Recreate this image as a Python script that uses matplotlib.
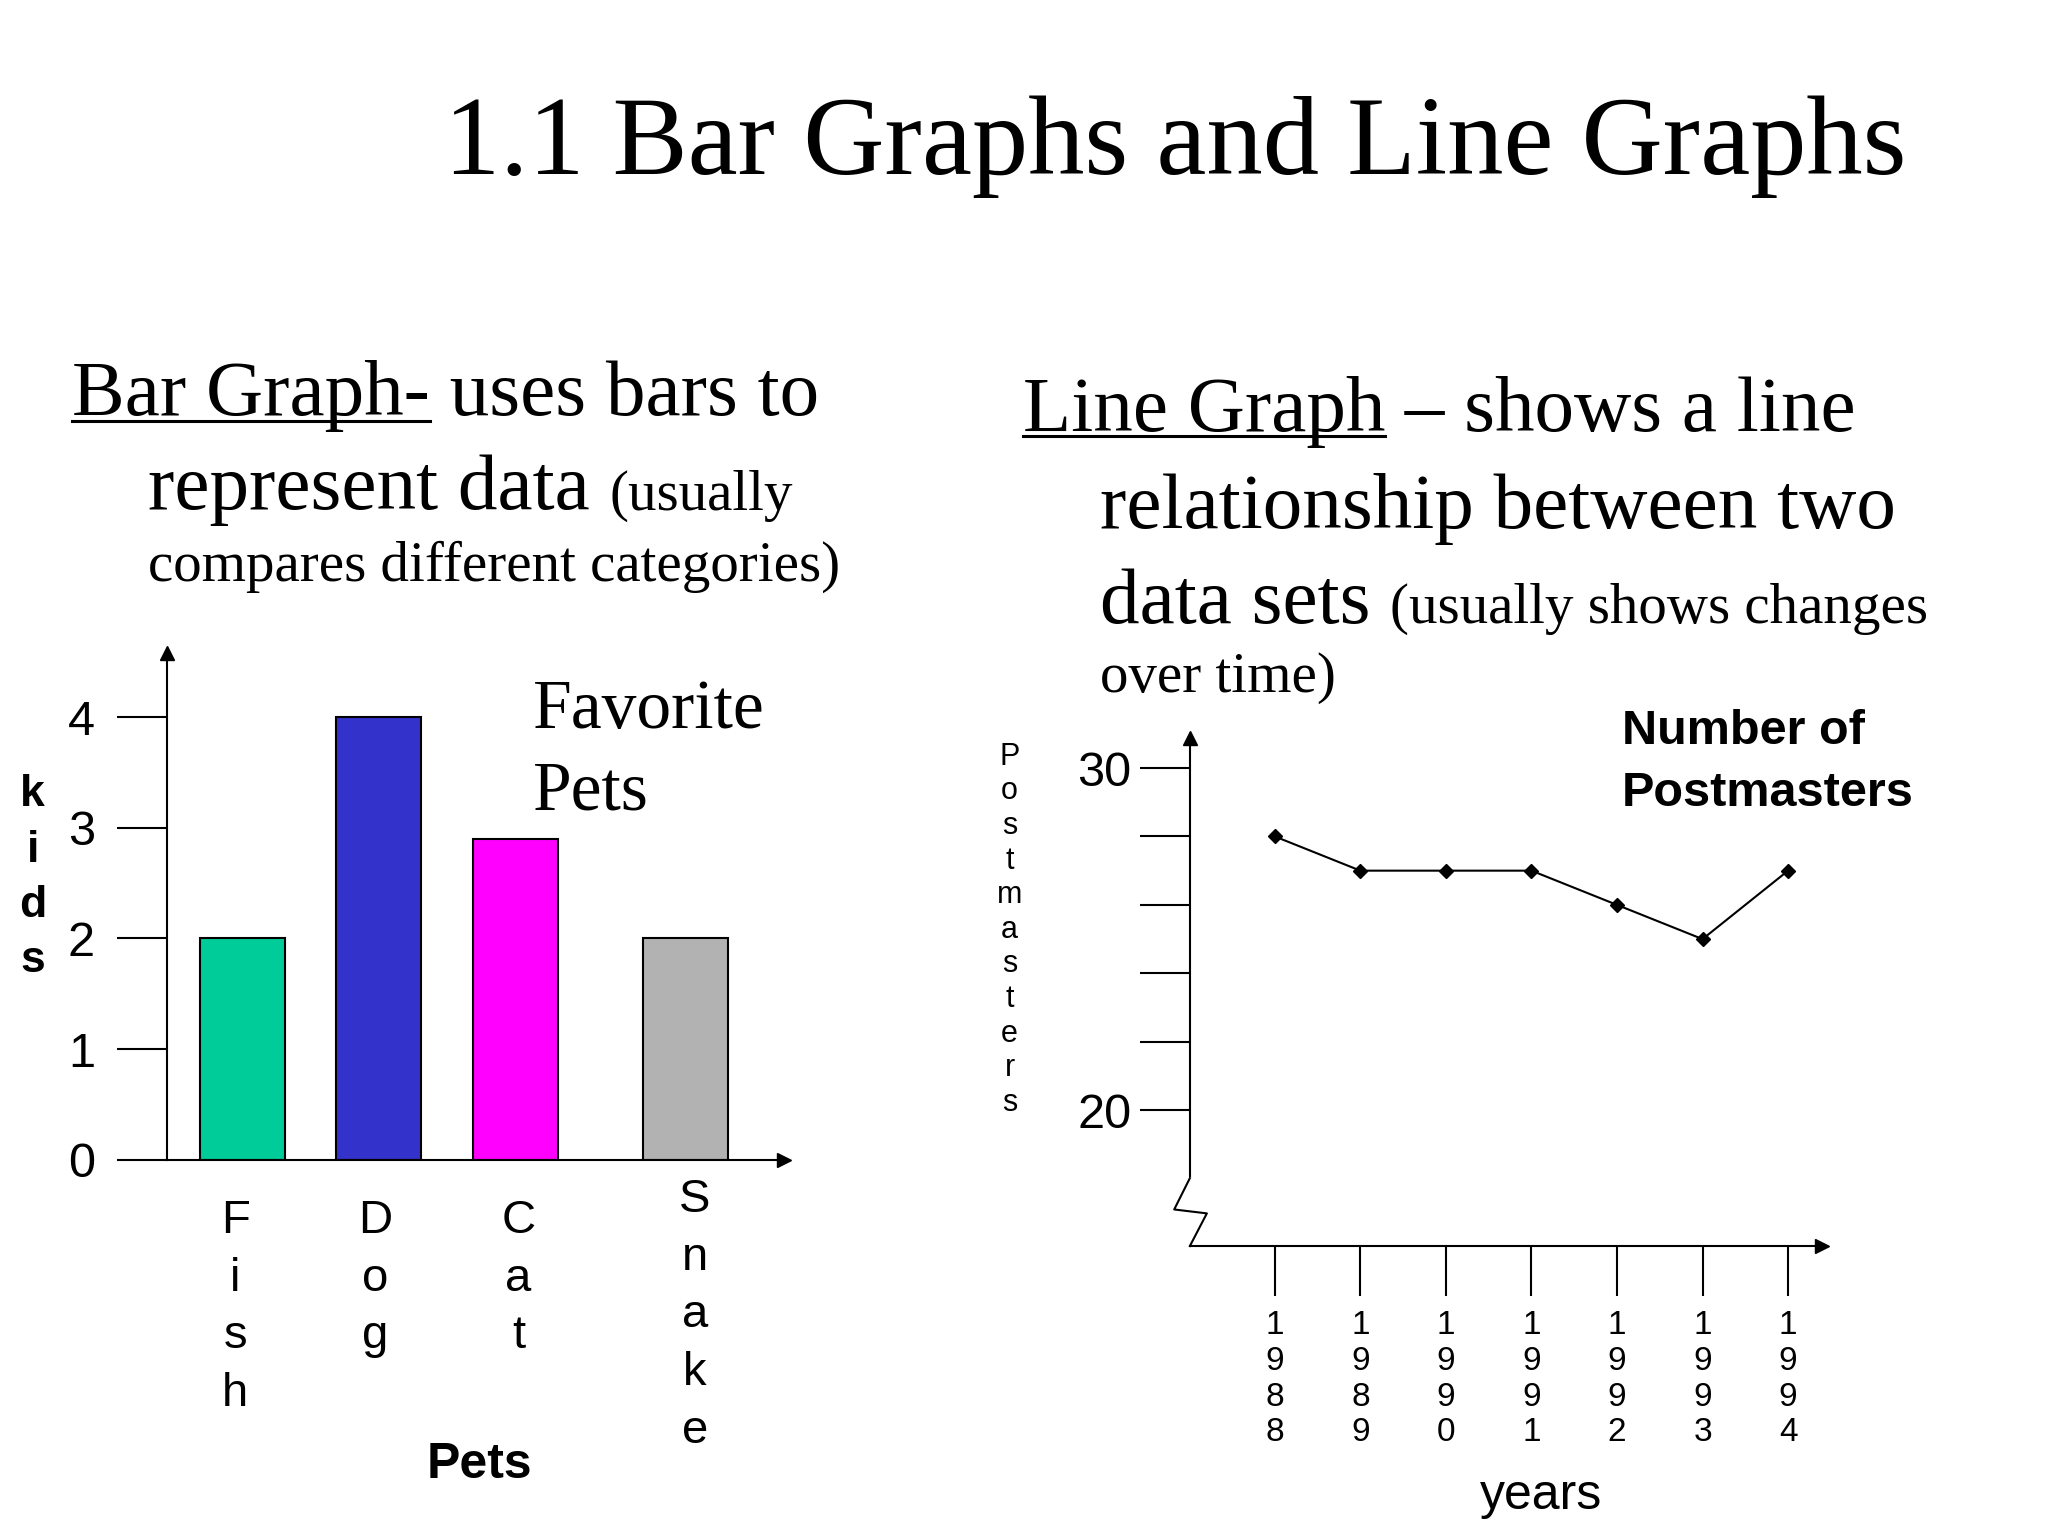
import matplotlib
matplotlib.use("Agg")
import matplotlib.pyplot as plt
from matplotlib.lines import Line2D

pets = ["Fish", "Dog", "Cat", "Snake"]
kids = [2, 4, 2.9, 2]
bar_colors = ["#00cc99", "#3333cc", "#ff00ff", "#b2b2b2"]
kid_ticks = [0, 1, 2, 3, 4]

years = [1988, 1989, 1990, 1991, 1992, 1993, 1994]
postmasters = [28, 27, 27, 27, 26, 25, 27]
pm_ticks = [20, 22, 24, 26, 28, 30]
pm_labels = ["20", "", "", "", "", "30"]

W, H = 1568.0, 1176.0
def fx(x): return x / W
def fy(y): return 1 - y / H

SERIF = "Liberation Serif"
SANS = "Liberation Sans"

fig = plt.figure(figsize=(20.48, 15.36), dpi=100)
fig.patch.set_facecolor("white")

fig.text(fx(340), fy(133), "1.1 Bar Graphs and Line Graphs", family=SERIF, fontsize=81, va="baseline")

def utext(x, y, s, size):
    t = fig.text(fx(x), fy(y), s, family=SERIF, fontsize=size, va="baseline")
    fig.canvas.draw()
    bb = t.get_window_extent()
    x0, x1 = bb.x0 / fig.bbox.width, bb.x1 / fig.bbox.width
    yy = fy(y + 4)
    fig.add_artist(Line2D([x0, x1], [yy, yy], color="black", lw=2.2))
    return x1

big, small = 57, 41
e = utext(55, 318, "Bar Graph-", big)
fig.text(e, fy(318), " uses bars to", family=SERIF, fontsize=big, va="baseline")
t = fig.text(fx(113), fy(390), "represent data ", family=SERIF, fontsize=big, va="baseline")
fig.canvas.draw()
fig.text(t.get_window_extent().x1 / fig.bbox.width, fy(390), "(usually", family=SERIF, fontsize=small, va="baseline")
fig.text(fx(113), fy(445), "compares different categories)", family=SERIF, fontsize=small, va="baseline")

e = utext(783, 330, "Line Graph", big)
fig.text(e, fy(330), " \u2013 shows a line", family=SERIF, fontsize=big, va="baseline")
fig.text(fx(842), fy(404), "relationship between two", family=SERIF, fontsize=big, va="baseline")
t = fig.text(fx(842), fy(477), "data sets ", family=SERIF, fontsize=big, va="baseline")
fig.canvas.draw()
fig.text(t.get_window_extent().x1 / fig.bbox.width, fy(477), "(usually shows changes", family=SERIF, fontsize=small, va="baseline")
fig.text(fx(842), fy(530), "over time)", family=SERIF, fontsize=small, va="baseline")

# ---------- Bar chart ----------
ax = fig.add_axes([fx(128), fy(888), fx(600) - fx(128), fy(500) - fy(888)])
bar_x = [58, 162, 267, 397]
ax.bar(bar_x, kids, width=65, color=bar_colors, edgecolor="black", linewidth=1.5)
ax.set_xlim(0, 472)
ax.set_ylim(0, 388 / 84.75)
for s in ["top", "right"]:
    ax.spines[s].set_visible(False)
for s in ["left", "bottom"]:
    ax.spines[s].set_linewidth(1.5)
ax.set_yticks(kid_ticks)
ax.set_yticklabels([str(k) for k in kid_ticks], family=SANS, fontsize=35)
ax.tick_params(axis="y", length=36, width=1.5, pad=16)
ax.set_xticks([])
ax.plot(1, 0, ">k", transform=ax.transAxes, clip_on=False, ms=10)
ax.plot(0, 1, "^k", transform=ax.transAxes, clip_on=False, ms=10)
label_tops = [918, 918, 918, 902]
label_x = [180, 287, 397, 532]
for p, xx, yt in zip(pets, label_x, label_tops):
    fig.text(fx(xx), fy(yt), "\n".join(p), family=SANS, fontsize=34, ha="center", va="top", linespacing=1.4)
fig.text(fx(25), fy(672), "\n".join("kids"), family=SANS, fontsize=32, weight="bold", ha="center", va="center", linespacing=1.45)
fig.text(fx(367), fy(1122), "Pets", family=SANS, fontsize=36, weight="bold", ha="center", va="center")
fig.text(fx(408), fy(557), "Favorite", family=SERIF, fontsize=50, va="baseline")
fig.text(fx(408), fy(620), "Pets", family=SERIF, fontsize=50, va="baseline")

# ---------- Line chart ----------
ax2 = fig.add_axes([fx(911), fy(954), fx(1395) - fx(911), fy(565) - fy(954)])
ax2.plot(years, postmasters, color="black", lw=1.5, marker="D", ms=7)
ax2.set_xlim(1988 - 65 / 65.5, 1988 + 419 / 65.5)
ax2.set_ylim(20 - 104 / 26.2, 30 + 23 / 26.2)
for s in ["top", "right"]:
    ax2.spines[s].set_visible(False)
for s in ["left", "bottom"]:
    ax2.spines[s].set_linewidth(1.5)
ax2.set_yticks(pm_ticks)
ax2.set_yticklabels(pm_labels, family=SANS, fontsize=35)
ax2.tick_params(axis="y", length=36, width=1.5, pad=6)
ax2.set_xticks(years)
ax2.set_xticklabels(["\n".join(str(y)) for y in years], family=SANS, fontsize=24, linespacing=1.2)
ax2.tick_params(axis="x", length=36, width=1.5, pad=10)
ax2.plot(1, 0, ">k", transform=ax2.transAxes, clip_on=False, ms=10)
ax2.plot(0, 1, "^k", transform=ax2.transAxes, clip_on=False, ms=10)
ax2.spines["left"].set_bounds(20 - 50 / 26.2, 30 + 23 / 26.2)
fig.add_artist(Line2D([fx(911), fx(899), fx(924), fx(911)], [fy(902), fy(926), fy(929), fy(954)], color="black", lw=1.5))
fig.text(fx(773), fy(568), "\n".join("Postmasters"), family=SANS, fontsize=22, ha="center", va="top", linespacing=1.2)
fig.text(fx(1180), fy(1145), "years", family=SANS, fontsize=36, ha="center", va="center")
fig.text(fx(1242), fy(570), "Number of", family=SANS, fontsize=35, weight="bold", va="baseline")
fig.text(fx(1242), fy(617), "Postmasters", family=SANS, fontsize=35, weight="bold", va="baseline")

fig.savefig("out.png", dpi=100)
